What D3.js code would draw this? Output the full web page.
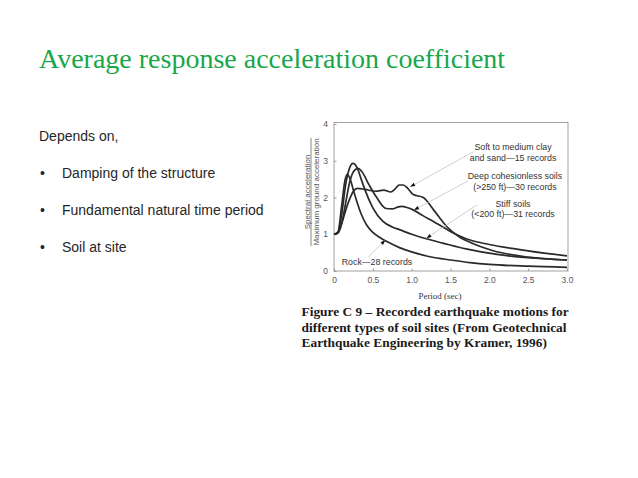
<!DOCTYPE html>
<html>
<head>
<meta charset="utf-8">
<script src="https://cdn.jsdelivr.net/npm/d3@7"></script>
<style>
	body { margin: 0; background: #fff; }
	svg { display: block; }
</style>
</head>
<body>
<script>
// period (sec) and normalized spectral acceleration
var rockT	= [0, 0.05, 0.1, 0.14, 0.17, 0.2, 0.25, 0.3, 0.35, 0.42, 0.5, 0.6, 0.7, 0.85, 1.0, 1.25, 1.5, 1.75, 2.0, 2.5, 3.0];
var rockSa	= [1, 1.05, 1.8, 2.45, 2.63, 2.55, 2.2, 1.85, 1.55, 1.25, 1.05, 0.9, 0.78, 0.63, 0.52, 0.38, 0.3, 0.23, 0.18, 0.13, 0.1];
var stiffT	= [0, 0.05, 0.1, 0.15, 0.2, 0.245, 0.3, 0.35, 0.4, 0.5, 0.63, 0.75, 0.85, 1.0, 1.2, 1.4, 1.7, 2.1, 2.5, 3.0];
var stiffSa	= [1, 1.05, 1.55, 2.35, 2.8, 2.93, 2.8, 2.5, 2.2, 1.72, 1.35, 1.2, 1.12, 1.0, 0.87, 0.76, 0.6, 0.45, 0.36, 0.3];
var deepT	= [0, 0.05, 0.1, 0.15, 0.2, 0.25, 0.31, 0.36, 0.45, 0.55, 0.67, 0.75, 0.82, 0.87, 0.95, 1.03, 1.15, 1.28, 1.4, 1.53, 1.71, 2.0, 2.5, 3.0];
var deepSa	= [1, 1.03, 1.3, 1.85, 2.4, 2.7, 2.79, 2.7, 2.35, 2.0, 1.7, 1.69, 1.74, 1.76, 1.72, 1.65, 1.5, 1.35, 1.2, 1.04, 0.87, 0.72, 0.55, 0.41];
var softT	= [0, 0.05, 0.1, 0.15, 0.2, 0.25, 0.3, 0.4, 0.54, 0.64, 0.73, 0.79, 0.84, 0.89, 0.95, 1.02, 1.15, 1.28, 1.45, 1.62, 1.75, 2.05, 2.5, 3.0];
var softSa	= [1, 1.05, 1.3, 1.65, 1.95, 2.17, 2.25, 2.22, 2.17, 2.2, 2.15, 2.24, 2.34, 2.34, 2.25, 2.08, 2.0, 1.67, 1.21, 0.92, 0.78, 0.55, 0.38, 0.3];

var xTicks	= [0, 0.5, 1.0, 1.5, 2.0, 2.5, 3.0];
var yTicks	= [0, 1, 2, 3, 4];

var bullets	= ["Damping of the structure", "Fundamental natural time period", "Soil at site"];
var caption	= ["Figure C 9 \u2013 Recorded earthquake motions for",
		   "different types of soil sites (From Geotechnical",
		   "Earthquake Engineering by Kramer, 1996)"];

// labels: text lines, where the leader starts and where the arrow touches the curve (data units)
var notes = [
	{ lines: ["Soft to medium clay", "and sand\u201415 records"], at: [2.305, 3.28], from: [1.79, 3.24], tip: [0.98, 2.29] },
	{ lines: ["Deep cohesionless soils", "(>250 ft)\u201430 records"], at: [2.33, 2.5], from: [1.725, 2.45], tip: [1.03, 1.66] },
	{ lines: ["Stiff soils", "(<200 ft)\u201431 records"], at: [2.305, 1.755], from: [1.84, 1.8], tip: [1.19, 0.89] },
	{ lines: ["Rock\u201428 records"], at: [0.1, 0.163], from: [0.44, 0.38], tip: [0.66, 0.84], left: true }
];

var W = 638, H = 478;
var svg = d3.select("body").append("svg").attr("width", W).attr("height", H);
svg.append("rect").attr("width", W).attr("height", H).attr("fill", "#fff");

svg.append("text")
	.attr("x", 39).attr("y", 68)
	.attr("font-family", "'Liberation Serif', 'Times New Roman', serif")
	.attr("font-size", 28).attr("fill", "#1aa64a")
	.text("Average response acceleration coefficient");

var sans = "'Liberation Sans', Arial, sans-serif";
svg.append("text").attr("x", 39).attr("y", 141)
	.attr("font-family", sans).attr("font-size", 14).attr("fill", "#262626")
	.text("Depends on,");
var bl = svg.selectAll("g.bullet").data(bullets).enter().append("g").attr("class", "bullet")
	.attr("transform", function(d, i) { return "translate(0," + (177.5 + i * 37.2) + ")"; });
bl.append("text").attr("x", 40).attr("font-family", sans).attr("font-size", 14).attr("fill", "#262626").text("\u2022");
bl.append("text").attr("x", 62).attr("font-family", sans).attr("font-size", 14).attr("fill", "#262626").text(function(d) { return d; });

// chart
var x = d3.scaleLinear().domain([0, 3]).range([334, 567]);
var y = d3.scaleLinear().domain([0, 4]).range([271, 124]);
var ink = "#2a2a2a", grey = "#555";

var plot = svg.append("g").attr("class", "plot");
plot.append("rect")
	.attr("x", x(0)).attr("y", y(4) - 1.5)
	.attr("width", x(3) - x(0) + 1).attr("height", y(0) - y(4) + 1.5)
	.attr("fill", "none").attr("stroke", "#8a8a8a").attr("stroke-width", 0.8);

var xAxisLine = function(g) {
	g.call(d3.axisBottom(x).tickValues(xTicks).tickSizeInner(-2.5).tickSizeOuter(0).tickPadding(6)
		.tickFormat(function(d) { return d === 0 ? "0" : d3.format(".1f")(d); }));
	g.select(".domain").remove();
	g.selectAll(".tick line").attr("stroke", "#999");
	g.selectAll(".tick text").attr("fill", grey).attr("font-family", sans).attr("font-size", 8.5);
};
var yAxisLine = function(g) {
	g.call(d3.axisLeft(y).tickValues(yTicks).tickSizeInner(-2.5).tickSizeOuter(0).tickPadding(6)
		.tickFormat(d3.format("d")));
	g.select(".domain").remove();
	g.selectAll(".tick line").attr("stroke", "#999");
	g.selectAll(".tick text").attr("fill", grey).attr("font-family", sans).attr("font-size", 8.5);
};
plot.append("g").attr("transform", "translate(0," + y(0) + ")").call(xAxisLine);
plot.append("g").attr("transform", "translate(" + x(0) + ",0)").call(yAxisLine);

plot.append("text").attr("x", 440).attr("y", 299).attr("text-anchor", "middle")
	.attr("font-family", "'Liberation Serif', 'Times New Roman', serif").attr("font-size", 9).attr("fill", "#333")
	.text("Period (sec)");

var yl = plot.append("g").attr("transform", "translate(311,192) rotate(-90)")
	.attr("font-family", sans).attr("font-size", 8).attr("fill", grey).attr("text-anchor", "middle");
yl.append("text").attr("y", -1.5).text("Spectral acceleration");
yl.append("text").attr("y", 7.5).text("Maximum ground acceleration");
yl.append("line").attr("x1", -54).attr("x2", 54).attr("y1", 0).attr("y2", 0).attr("stroke", grey).attr("stroke-width", 0.7);

var series = [
	{ t: rockT, sa: rockSa },
	{ t: stiffT, sa: stiffSa },
	{ t: deepT, sa: deepSa },
	{ t: softT, sa: softSa }
];
var line = d3.line()
	.x(function(d) { return x(d[0]); })
	.y(function(d) { return y(d[1]); })
	.curve(d3.curveMonotoneX);
plot.selectAll("path.curve").data(series).enter().append("path").attr("class", "curve")
	.attr("d", function(s) { return line(s.t.map(function(v, i) { return [v, s.sa[i]]; })); })
	.attr("fill", "none").attr("stroke", ink).attr("stroke-width", 1.7);

var ng = plot.selectAll("g.note").data(notes).enter().append("g").attr("class", "note");
ng.append("line")
	.attr("x1", function(d) { return x(d.from[0]); }).attr("y1", function(d) { return y(d.from[1]); })
	.attr("x2", function(d) { return x(d.tip[0]); }).attr("y2", function(d) { return y(d.tip[1]); })
	.attr("stroke", "#c4c4c4").attr("stroke-width", 0.8);
ng.append("path")
	.attr("d", function(d) {
		var tx = x(d.tip[0]), ty = y(d.tip[1]),
			dx = x(d.from[0]) - tx, dy = y(d.from[1]) - ty,
			l = Math.sqrt(dx * dx + dy * dy), ux = dx / l, uy = dy / l;
		return "M" + tx + "," + ty +
			"L" + (tx + ux * 5 - uy * 1.8) + "," + (ty + uy * 5 + ux * 1.8) +
			"L" + (tx + ux * 5 + uy * 1.8) + "," + (ty + uy * 5 - ux * 1.8) + "Z";
	})
	.attr("fill", "#111");
ng.each(function(d) {
	var t = d3.select(this).append("text")
		.attr("font-family", sans).attr("font-size", 8.8).attr("fill", "#333")
		.attr("text-anchor", d.left ? "start" : "middle");
	d.lines.forEach(function(s, i) {
		t.append("tspan").attr("x", x(d.at[0])).attr("y", y(d.at[1]) + i * 10.8).text(s);
	});
});

var cap = svg.append("text")
	.attr("font-family", "'Liberation Serif', 'Times New Roman', serif")
	.attr("font-size", 13.4).attr("font-weight", "bold").attr("fill", "#1a1a1a");
caption.forEach(function(s, i) {
	cap.append("tspan").attr("x", 301.5).attr("y", 316 + i * 15.5).text(s);
});
</script>
</body>
</html>
